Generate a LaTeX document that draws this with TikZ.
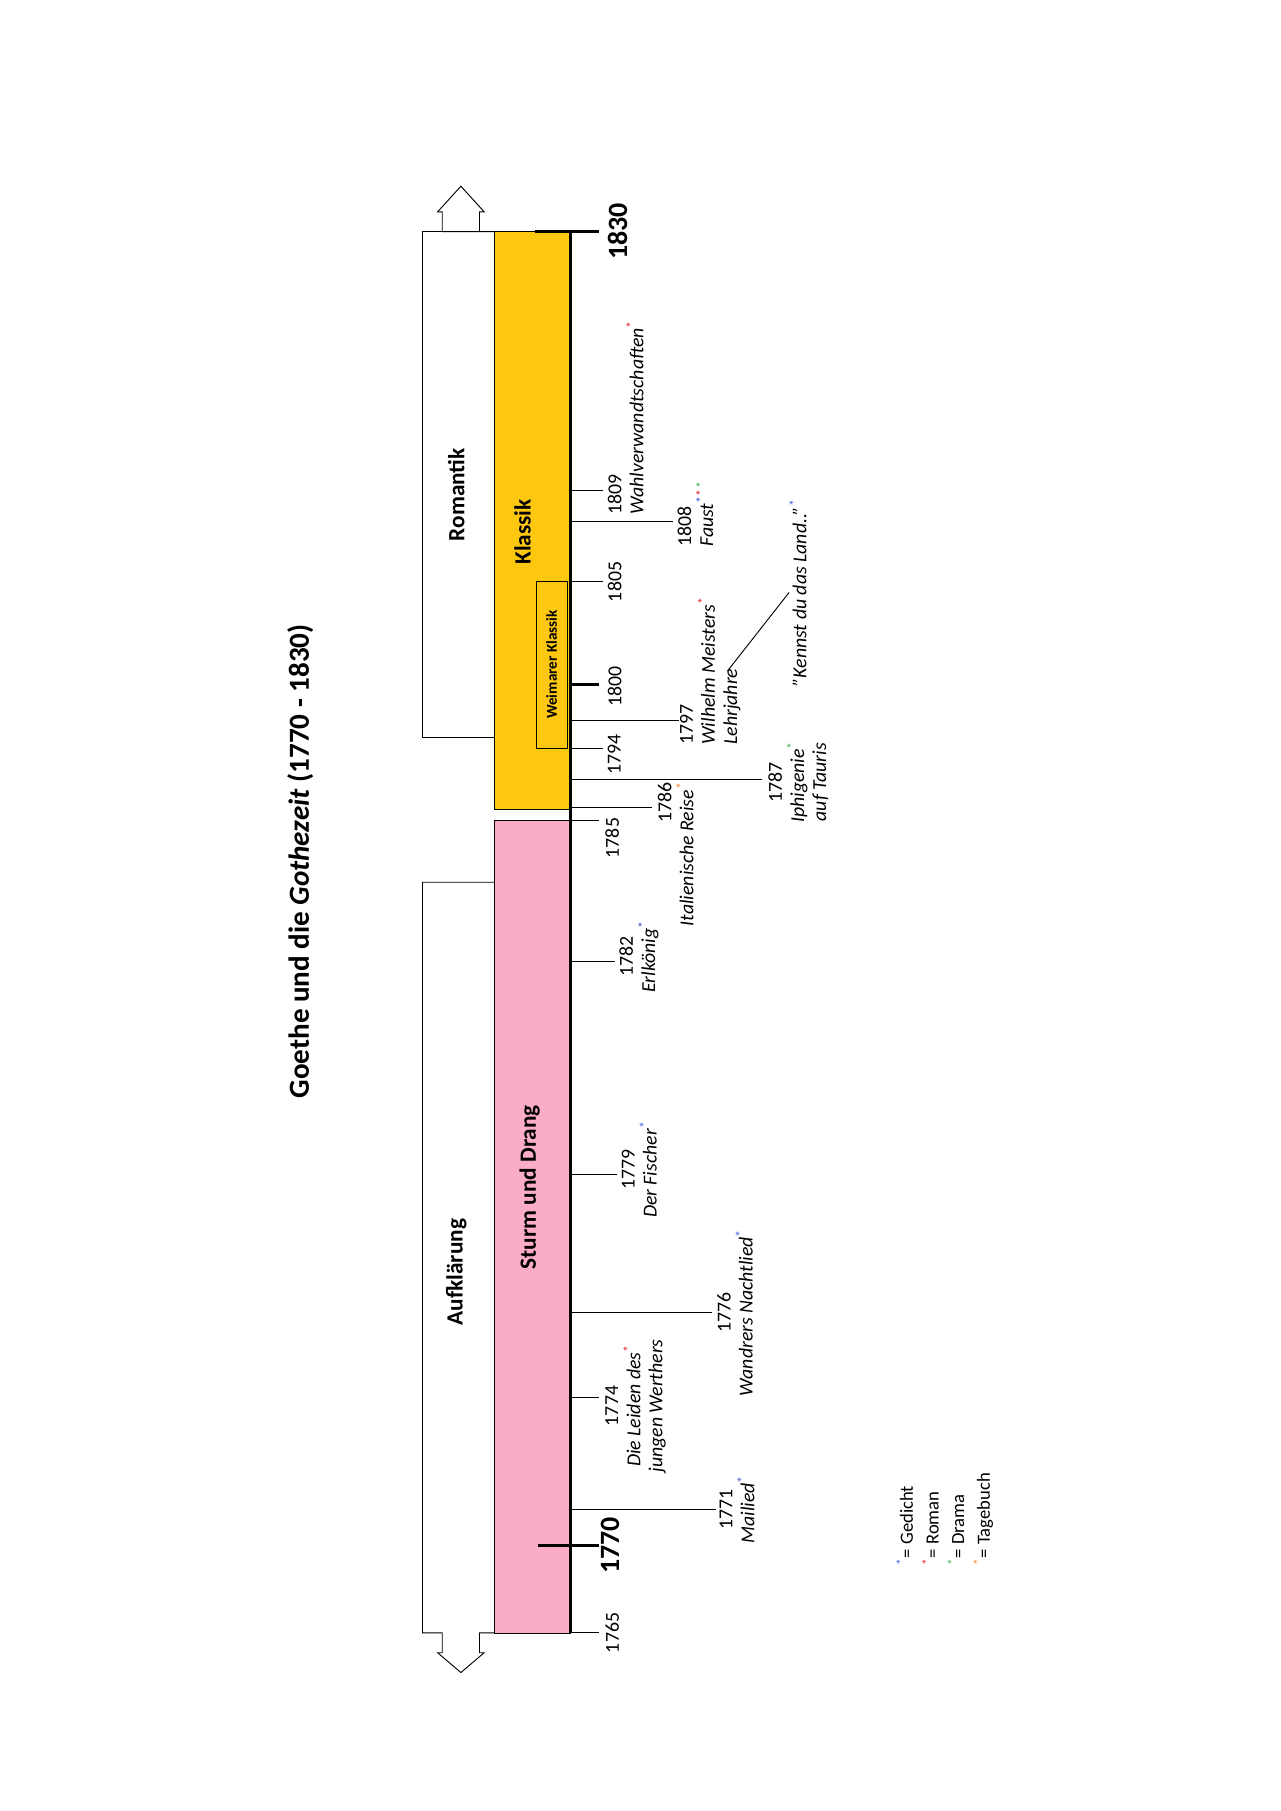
\documentclass[tikz,border=0pt]{standalone}
\usepackage{fontspec}
\setmainfont{Carlito}
\usepackage{xcolor}
\definecolor{klassik}{RGB}{255,200,16}
\definecolor{sturm}{RGB}{250,172,200}
\definecolor{gedicht}{RGB}{70,90,220}
\definecolor{roman}{RGB}{230,40,40}
\definecolor{drama}{RGB}{60,180,80}
\definecolor{tagebuch}{RGB}{250,130,40}
\newcommand{\gd}{\textsuperscript{\textcolor{gedicht}{*}}}
\newcommand{\rom}{\textsuperscript{\textcolor{roman}{*}}}
\newcommand{\dra}{\textsuperscript{\textcolor{drama}{*}}}
\newcommand{\tgb}{\textsuperscript{\textcolor{tagebuch}{*}}}
\tikzset{
  evt/.style={rotate=90, anchor=north, align=center, inner sep=0pt,
    font=\fontsize{17}{19}\selectfont},
  era/.style={rotate=90, inner sep=0pt, font=\fontsize{20}{22}\selectfont\bfseries},
  yrtick/.style={line width=3pt},
  evline/.style={line width=0.8pt}
}
\begin{document}
\begin{tikzpicture}[x=1pt, y=-1pt]
	\useasboundingbox (0,0) rectangle (1100,1556);

	% periods
	\fill[klassik, draw=black] (425,199) rectangle (490,695);
	\fill[sturm, draw=black] (425,705) rectangle (490,1403);
	\draw[thick] (425,199) -- (380,199) -- (380,182) -- (376,182) -- (396,160)
	-- (416,182) -- (412,182) -- (412,199);
	\draw[thick] (380,199) -- (363,199) -- (363,634) -- (425,634);
	\draw[thick] (425,758) -- (363,758) -- (363,1403) -- (380,1403) -- (380,1420)
	-- (376,1420) -- (396,1437) -- (416,1420) -- (412,1420) -- (412,1403) -- (425,1403);

	\node[era] (romantik) at (392,425) {Romantik};
	\node[era] (aufkl) at (392,1093) {Aufklärung};
	\node[era] (klassik) at (449,457) {Klassik};
	\node[era] (sud) at (455,1020) {Sturm und Drang};
	\node[draw, rotate=90, minimum width=143pt, minimum height=26pt, inner sep=0pt,
		font=\fontsize{13}{14}\selectfont\bfseries] (weimar) at (474,571) {Weimarer Klassik};

	% axis
	\draw[line width=3pt] (490,199) -- (490,1403);
	\draw[yrtick] (460,199) -- (515,199);
	\draw[yrtick] (462,1328) -- (515,1328);
	\draw[yrtick] (490,588) -- (515,588);
	\draw[evline] (490,1403) -- (515,1403);
	\node[evt, font=\fontsize{24}{26}\selectfont\bfseries] (y1830) at (522,199) {1830};
	\node[evt, font=\fontsize{24}{26}\selectfont\bfseries] (y1770) at (516,1328) {1770};
	\node[evt] (y1765) at (520,1403) {1765};

	% events
	\draw[evline] (490,421) -- (518,421);
	\node[evt, anchor=north west, align=left] (e1809) at (522,442)
	{1809\\ \textit{Wahlverwandtschaften}\rom};
	\draw[evline] (490,448) -- (578,448);
	\node[evt, anchor=north west, align=left] (e1808) at (582,470)
	{1808\\ \textit{Faust}\gd\rom\dra};
	\draw[evline] (490,500) -- (518,500);
	\node[evt] (e1805) at (522,500) {1805};
	\node[evt] (e1800) at (522,590) {1800};
	\draw[evline] (490,619) -- (583,619);
	\node[evt, anchor=north west, align=left] (e1797) at (584,640)
	{1797\\ \textit{Wilhelm Meisters}\rom\\ \textit{Lehrjahre}};
	\draw[evline] (490,643) -- (518,643);
	\node[evt] (e1794) at (522,648) {1794};
	\draw[evline] (490,670) -- (655,670);
	\node[evt] (e1787) at (660,672) {1787\\ \textit{Iphigenie}\dra\\ \textit{auf Tauris}};
	\draw[evline] (490,694) -- (560,694);
	\node[evt, anchor=north east, align=right] (e1786) at (565,672)
	{1786\\ \textit{Italienische Reise}\tgb};
	\draw[evline] (490,705) -- (515,705);
	\node[evt] (e1785) at (520,720) {1785};
	\draw[evline] (490,826) -- (528,826);
	\node[evt] (e1782) at (532,822) {1782\\ \textit{Erlkönig}\gd};
	\draw[evline] (490,1009) -- (530,1009);
	\node[evt] (e1779) at (534,1005) {1779\\ \textit{Der Fischer}\gd};
	\draw[evline] (490,1128) -- (612,1128);
	\node[evt] (e1776) at (616,1128) {1776\\ \textit{Wandrers Nachtlied}\gd};
	\draw[evline] (490,1201) -- (515,1201);
	\node[evt] (e1774) at (520,1208) {1774\\ \textit{Die Leiden des}\rom\\ \textit{jungen Werthers}};
	\draw[evline] (490,1297) -- (615,1297);
	\node[evt] (e1771) at (618,1297) {1771\\ \textit{Mailied}\gd};

	\node[evt, anchor=north west] (kennst) at (678,590) {\textit{"Kennst du das Land.."}\gd};
	\draw[evline] (e1797.north -| 625,509) -- (kennst.north |- 0,509);

	% title
	\node[rotate=90, font=\fontsize{25}{27}\selectfont\bfseries] (title) at (258,740)
	{Goethe und die \textit{Gothezeit} (1770 - 1830)};

	% legend
	\node[evt, anchor=north west, align=left, font=\fontsize{16}{22}\selectfont] (legende)
	at (770,1345) {\gd = Gedicht\\ \rom = Roman\\ \dra = Drama\\ \tgb = Tagebuch};
\end{tikzpicture}
\end{document}
